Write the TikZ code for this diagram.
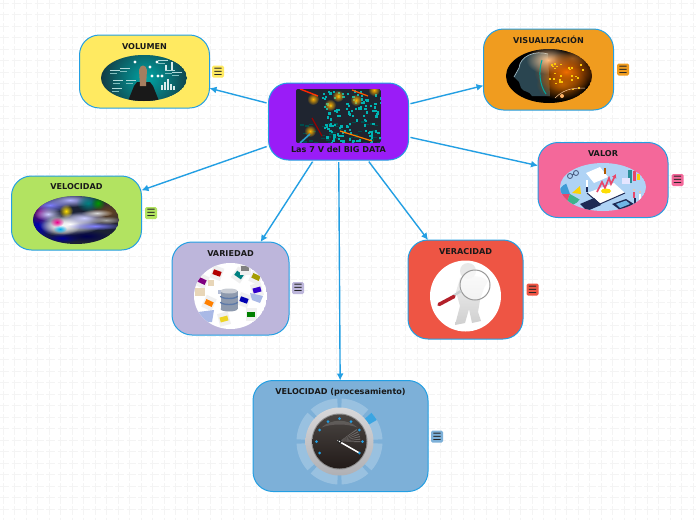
\documentclass[tikz,border=0pt]{standalone}
\usepackage{fontspec}
\setmainfont{DejaVu Sans}
\newfontfamily\symfont{DejaVu Sans}
\usetikzlibrary{arrows.meta,fadings}
\definecolor{linkblue}{HTML}{239FE3}
\definecolor{gridgray}{HTML}{F4F4F4}
\definecolor{vmain}{HTML}{9A1CF7}
\definecolor{vyellow}{HTML}{FFEA61}
\definecolor{vgreen}{HTML}{B2E361}
\definecolor{vlilac}{HTML}{BDB6DB}
\definecolor{vorange}{HTML}{F09C1F}
\definecolor{vpink}{HTML}{F4689A}
\definecolor{vred}{HTML}{EE5544}
\definecolor{vblue}{HTML}{7DB0D8}
\definecolor{ringtop}{HTML}{D8D8DA}
\definecolor{ringbot}{HTML}{B0B0B4}
\definecolor{dialtop}{HTML}{4A4643}
\definecolor{dialbot}{HTML}{221A18}
\definecolor{figtop}{HTML}{F2F2F2}
\definecolor{figbot}{HTML}{CFCFCF}
\tikzfading[name=softblob, inner color=transparent!0, outer color=transparent!100]
\tikzset{
  hex/.code={\definecolor{hexcol}{HTML}{#1}\tikzset{color=hexcol}},
  topic/.style={draw=linkblue, line width=1pt, rounded corners=20pt, inner sep=0pt, outer sep=0pt},
  caption/.style={font=\bfseries\fontsize{8.1}{9}\selectfont, text=black!90, inner sep=0pt},
  badge/.style={rounded corners=1.5pt, minimum size=12pt, inner sep=0pt, font=\symfont\fontsize{10}{10}\selectfont, text=black!85},
  link/.style={draw=linkblue, line width=1.4pt, shorten <=2pt, -{Latex[length=7pt,width=7pt]}},
  blob/.style={fill=#1, path fading=softblob},
}
\begin{document}
\begin{tikzpicture}[x=1pt,y=-1pt]
  % --- fixed frame and background grid ---
  \useasboundingbox (0,0) rectangle (696,520);
  \fill[white] (0,0) rectangle (696,520);
  \foreach \gx in {3,14.5,...,696} {
    \draw[gridgray, line width=1pt, dash pattern=on 9pt off 2.5pt] (\gx,0) -- (\gx,520);
  }
  \foreach \gy in {3,14.5,...,520} {
    \draw[gridgray, line width=1pt, dash pattern=on 9pt off 2.5pt] (0,\gy) -- (696,\gy);
  }

  % --- boxes ---
  \node[topic, fill=vmain, minimum width=140pt, minimum height=77pt] (main) at (338.5,121.5) {};
  \node[topic, fill=vyellow, minimum width=130pt, minimum height=73pt] (volumen) at (144.5,71.5) {};
  \node[topic, fill=vgreen, minimum width=130pt, minimum height=74pt] (velocidad) at (76.5,213) {};
  \node[topic, fill=vlilac, minimum width=117pt, minimum height=93pt] (variedad) at (230.5,288.5) {};
  \node[topic, fill=vorange, minimum width=130pt, minimum height=81pt] (visual) at (548.5,69.5) {};
  \node[topic, fill=vpink, minimum width=130pt, minimum height=75pt] (valor) at (603,180) {};
  \node[topic, fill=vred, minimum width=115pt, minimum height=99pt] (veracidad) at (465.5,289.5) {};
  \node[topic, fill=vblue, minimum width=175pt, minimum height=111pt] (proceso) at (340.5,436) {};

  % --- links ---
  \draw[link] (main) -- (volumen);
  \draw[link] (main) -- (velocidad);
  \draw[link] (main) -- (variedad);
  \draw[link] (main) -- (visual);
  \draw[link] (main) -- (valor);
  \draw[link] (main) -- (veracidad);
  \draw[link] (main) -- (proceso);

  % --- picture of the main box ---
  \begin{scope}
    \clip[rounded corners=2pt] (296,89) rectangle (381,143);
    \fill[hex=1F2530] (296,89) rectangle (381,143);
    \pgfmathsetseed{7}
    \foreach \k in {1,...,40} {
      \pgfmathsetmacro{\px}{300+80*rnd}
      \pgfmathsetmacro{\py}{120+23*rnd}
      \fill[teal!60!black] (\px,\py) rectangle ++(4,1.5);
    }
    \foreach \k in {1,...,130} {
      \pgfmathsetmacro{\px}{322+59*rnd}
      \pgfmathsetmacro{\py}{90+52*rnd}
      \fill[teal!60!cyan] (\px,\py) rectangle ++(2.2,2.2);
    }
    \draw[red!70!orange, line width=1.4pt] (300,89) -- (318,96);
    \draw[orange, line width=1.2pt] (340,131) -- (372,141);
    \draw[red!60!black, line width=1.2pt] (312,118) -- (322,136);
    \draw[orange!70!red, line width=1.2pt] (352,90) -- (368,96);
    \foreach \px/\py in {313/99,338/96,330/105,356/100,374/90,310/131} {
      \fill[blob=orange!60!yellow] (\px,\py) circle [radius=6];
    }
    \draw[cyan!60!teal, line width=1.6pt] (300,143) -- (310,134);
  \end{scope}

  % --- picture: volumen ---
  \begin{scope}
    \clip (144,78) ellipse [x radius=43, y radius=23];
    \fill[hex=15303A] (144,78) ellipse [x radius=43, y radius=23];
    \fill[blob=teal!70!cyan] (146,78) ellipse [x radius=50, y radius=44];
    \foreach \px/\py in {110/70,120/68,113/80,126/80,112/88,165/70,172/72,158/60} {
      \draw[white!70!teal, line width=.8pt] (\px,\py) -- ++(10,0);
      \draw[white!50!teal, line width=.5pt] (\px,\py+3) -- ++(7,0);
    }
    \foreach \px/\py/\bh in {162/90/5,165/90/8,168/90/11,171/90/6,174/90/4,172/70/8,166/70/5} {
      \draw[white!85!teal, line width=1.2pt] (\px,\py) -- ++(0,-\bh);
    }
    \foreach \px/\py in {150/67,157/62,135/62,152/76,158/76,162/76} {
      \fill[white] (\px,\py) circle [radius=1.6];
    }
    \fill[black!90] (128,101) -- (134,86) -- (137,82) -- (150,82) -- (153,86) -- (159,101) -- cycle;
    \fill[hex=A57E60] (140,86) -- (139,70) .. controls (140,64) and (146,64) .. (147,70) -- (146,86) -- cycle;
  \end{scope}

  % --- picture: velocidad ---
  \begin{scope}
    \clip (76,220) ellipse [x radius=43, y radius=24];
    \fill[hex=1B2135] (76,220) ellipse [x radius=43, y radius=24];
    \foreach \px/\py/\rx/\ry/\col in {
      108/212/24/14/brown!55!black, 38/226/16/18/blue!70!black, 40/212/11/12/violet, 50/205/20/7/blue!50,
      48/214/14/7/white!80!blue, 70/200/26/7/white!70!blue, 88/203/12/9/teal, 98/203/7/7/green!60!black,
      66/211/7/7/yellow!80!orange, 70/224/32/11/white, 60/226/20/10/white, 57/222/7/5/magenta, 60/229/7/4/cyan,
      84/218/22/7/white!80!blue, 97/213/16/4/white!70!gray, 95/226/28/4/blue!50!white, 106/220/16/4/gray!70,
      62/238/18/5/blue!60!black, 86/236/24/6/blue!30!black} {
      \fill[blob=\col] (\px,\py) ellipse [x radius=\rx, y radius=\ry];
    }
  \end{scope}

  % --- picture: visualizacion ---
  \begin{scope}
    \clip (549,76) ellipse [x radius=43, y radius=27];
    \fill[black] (549,76) ellipse [x radius=43, y radius=27];
    \fill[hex=2A4550] (519,68) .. controls (520,56) and (535,50) .. (548,54) -- (550,96) -- (532,96)
      .. controls (530,91) and (523,92) .. (521,88) -- (519,82) -- (514,77) -- cycle;
    \draw[hex=9DB9C4, line width=.7pt] (514,77) -- (519,68) .. controls (520,56) and (535,50) .. (548,54);
    \fill[blob=orange!40!white] (548,60) ellipse [x radius=22, y radius=14];
    \fill[blob=brown!60!black] (572,58) ellipse [x radius=18, y radius=10];
    \fill[blob=orange!90!red] (566,72) ellipse [x radius=32, y radius=20];
    \fill[blob=orange!75!black] (562,84) ellipse [x radius=26, y radius=16];
    \pgfmathsetseed{11}
    \foreach \k in {1,...,26} {
      \pgfmathsetmacro{\px}{548+36*rnd}
      \pgfmathsetmacro{\py}{62+28*rnd}
      \fill[yellow!60!orange] (\px,\py) rectangle ++(2,1.6);
    }
    \draw[cyan!50!green, line width=1pt] (542,60) .. controls (538,72) and (540,86) .. (546,94);
    \draw[white!60!orange, line width=.5pt] (555,98) .. controls (565,88) and (575,88) .. (585,88);
    \fill[orange!60!white] (562,96) circle [radius=2];
  \end{scope}

  % --- picture: valor ---
  \begin{scope}
    \clip (603,187) ellipse [x radius=43, y radius=24];
    \fill[hex=AFD3F5] (603,187) ellipse [x radius=43, y radius=24];
    \fill[white] (586,173) -- (600,167) -- (608,177) -- (594,183) -- cycle;
    \fill[white] (587,193) -- (614,183) -- (625,193) -- (600,204) -- cycle;
    \draw[hex=1E2A55, line width=1pt] (587,193) -- (600,204) -- (625,193);
    \draw[hex=E8476B, line width=1.6pt, -{Latex[length=4pt,width=5pt]}] (597,192) -- (602,182) -- (605,188) -- (609,178) -- (611,184) -- (616,174);
    \fill[yellow!80!orange] (606,191) ellipse [x radius=5, y radius=2.5];
    \fill[hex=2C8F9A] (628,170) rectangle (632,183);
    \fill[hex=E8476B] (633,171) rectangle (636,181);
    \fill[yellow!70!orange] (637,174) rectangle (640,180);
    \fill[white!90!blue] (622,178) rectangle (630,184);
    \fill[hex=3E9BD6] (570,194) -- ++(180:11) arc (180:250:11) -- cycle;
    \fill[hex=E8476B] (570,194) -- ++(180:11) arc (180:110:11) -- cycle;
    \fill[hex=3DB38D] (570,194) -- ++(110:11) arc (110:30:11) -- cycle;
    \fill[yellow!70!orange] (572,193) -- (580,186) -- (581,194) -- cycle;
    \fill[hex=1E2A55] (580,204) -- (594,198) -- (601,205) -- (587,211) -- cycle;
    \fill[hex=1E2A55] (612,204) -- (626,199) -- (634,204) -- (620,210) -- cycle;
    \fill[hex=6FB6E6] (616,204) -- (626,200.5) -- (630,204) -- (620,208) -- cycle;
    \draw[hex=43557A, line width=.8pt] (570,176) circle [radius=2.5] (576,173) circle [radius=2.5] (572,175) -- (574,174);
    \draw[hex=E8476B, line width=2pt] (634,192) -- (634,198);
    \draw[hex=1E2A55, line width=1.6pt] (635,198) -- (635,204);
    \draw[white, line width=2pt] (640,194) -- (640,200);
    \draw[hex=1E2A55, line width=1.6pt] (640,200) -- (640,206);
    \fill[hex=F0C7A8] (634,190) circle [radius=1.2] (640,192) circle [radius=1.2];
    \draw[white, line width=2pt] (587,180) -- (587,187);
    \draw[hex=1E2A55, line width=1.6pt] (587,187) -- (587,192);
    \draw[orange!70!black, line width=2pt] (605,168) -- (605,174);
  \end{scope}

  % --- picture: variedad ---
  \begin{scope}
    \clip (230.5,296) ellipse [x radius=36.5, y radius=33];
    \fill[white] (230.5,296) ellipse [x radius=36.5, y radius=33];
    \foreach \px/\py/\rt/\col in {
      202/281/-25/violet, 217/273/-20/red!70!black, 239/275/-35/teal, 245/268/0/gray, 256/277/-25/olive!80!yellow,
      257/290/15/blue!60!violet, 244/300/-20/blue!70!black, 251/314/0/green!50!black, 224/319/15/yellow!70!brown, 209/303/-25/orange} {
      \begin{scope}[rotate around={\rt:(\px,\py)}]
        \fill[black!6] (\px-5.5,\py-6.5) rectangle (\px+5.5,\py+6.5);
        \fill[\col] (\px-4,\py-2.5) rectangle (\px+4,\py+2.5);
      \end{scope}
    }
    \fill[hex=A9B9E6] (198,312) -- (214,310) -- (212,322) -- (202,322) -- cycle;
    \fill[hex=A9B9E6] (250,293) -- (263,296) -- (260,303) -- (252,300) -- cycle;
    \fill[hex=E8D6B8] (195,288) rectangle (205,296);
    \fill[hex=E8D6B8] (208,280) rectangle (214,286);
    \fill[hex=B4BED6] (218,290) rectangle (228,294);
    \fill[hex=8E9AAE] (220.5,291) rectangle (237.5,309);
    \fill[hex=8E9AAE] (229,309) ellipse [x radius=8.5, y radius=2.5];
    \foreach \py in {296,302} {
      \draw[hex=5E7AA8, line width=1.4pt] (220.5,\py) arc (180:0:8.5 and 2.5);
    }
    \fill[hex=C9CDD4] (229,291) ellipse [x radius=8.5, y radius=2.5];
  \end{scope}

  % --- picture: veracidad ---
  \fill[white] (465.5,296) circle [radius=35.5];
  \shade[top color=figtop, bottom color=figbot] (460,278) .. controls (468,276) and (480,274) .. (488,281) -- (484,288) -- (480,300) -- (478,312) -- (481,321) -- (472,323) -- (469,309) -- (465,323) -- (455,325) -- (460,306) -- (456,292) -- cycle;
  \fill[hex=E8E8E8] (468,271) circle [radius=8];
  \fill[white, opacity=.6] (475,285) circle [radius=15];
  \draw[hex=9A9A9A, line width=1pt] (475,285) circle [radius=15];
  \draw[hex=C9CDCF, line width=2.4pt] (453,296) -- (461,291);
  \draw[hex=B3202A, line width=3.6pt, line cap=round] (439,304.5) -- (454,296.5);

  % --- picture: velocidad (procesamiento) ---
  \begin{scope}[shift={(339.5,441.5)}]
    \foreach \a in {0,45,...,315} {
      \fill[white, opacity=.22] (\a+3:33) -- (\a+3:43) arc (\a+3:\a+42:43) -- (\a+42:33) arc (\a+42:\a+3:33) -- cycle;
    }
    \fill[linkblue, opacity=.8] (-30:33) -- (-30:43) arc (-30:-42:43) -- (-42:33) -- cycle;
    \shade[top color=ringtop, bottom color=ringbot] (0,0) circle [radius=34];
    \fill[black!45] (0,0) circle [radius=28];
    \shade[top color=dialtop, bottom color=dialbot] (0,0) circle [radius=27];
    \fill[white, opacity=.15] (-18,-14) .. controls (-8,-23) and (8,-23) .. (18,-14) .. controls (8,-18) and (-8,-18) .. (-18,-14) -- cycle;
    \foreach \a in {0,-30,-60,-90,-120,-150,-180,-210,30} {
      \fill[linkblue] (\a:23) circle [radius=1.5];
    }
    \foreach \a in {2,-5,-12,-19,-26,-33} {
      \fill[white, opacity=.25] (0,0) -- (\a:21) -- (\a-3:21) -- cycle;
    }
    \draw[white, line width=1.5pt] (-2,-1) -- (19,11);
    \draw[black!85, fill=white, line width=1pt] (0,0) circle [radius=1.8];
  \end{scope}

  % --- captions ---
  \node[caption] (tmain) at (338.5,149) {Las 7 V del BIG DATA};
  \node[caption] (tvolumen) at (144.5,47) {VOLUMEN};
  \node[caption] (tvelocidad) at (76.5,187) {VELOCIDAD};
  \node[caption] (tvariedad) at (230.5,254) {VARIEDAD};
  \node[caption] (tvisual) at (548.5,40) {VISUALIZACIÓN};
  \node[caption] (tvalor) at (603,154) {VALOR};
  \node[caption] (tveracidad) at (465.5,252) {VERACIDAD};
  \node[caption] (tproceso) at (340.5,392) {VELOCIDAD (procesamiento)};

  % --- note badges ---
  \node[badge, fill=vyellow] (bvolumen) at (218,71.5) {☰};
  \node[badge, fill=vgreen] (bvelocidad) at (151,213) {☰};
  \node[badge, fill=vlilac] (bvariedad) at (298,288) {☰};
  \node[badge, fill=vorange] (bvisual) at (623,69.5) {☰};
  \node[badge, fill=vpink] (bvalor) at (677.5,180) {☰};
  \node[badge, fill=vred] (bveracidad) at (532.5,289.5) {☰};
  \node[badge, fill=vblue] (bproceso) at (437,436.5) {☰};
\end{tikzpicture}
\end{document}
